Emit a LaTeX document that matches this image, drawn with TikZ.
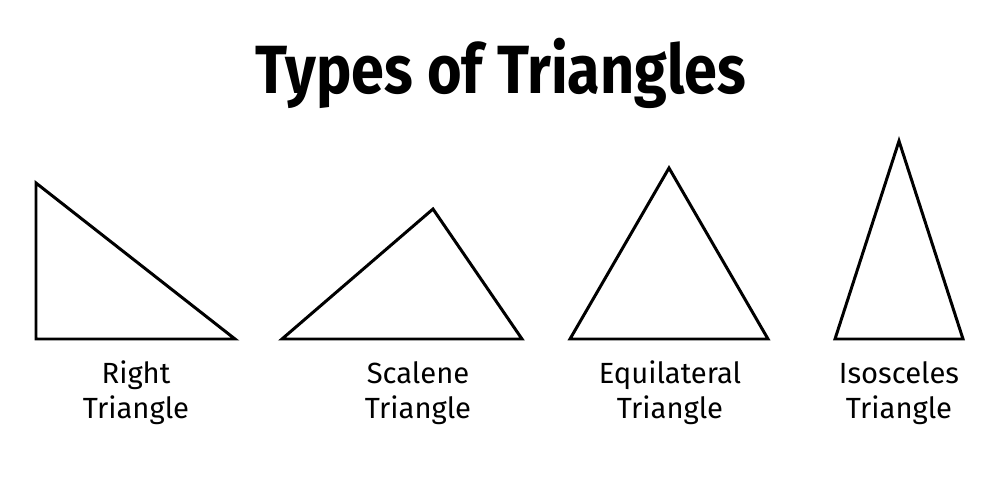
\documentclass[tikz,border=0pt]{standalone}
\usepackage{fontspec}
\setmainfont{Fira Sans}
\usetikzlibrary{positioning}

\tikzset{
    tri/.style={draw, line width=0.85pt, line join=miter},
    lbl/.style={font=\fontsize{8.3}{9.67}\selectfont, align=center, inner sep=0pt, anchor=base},
}

\begin{document}
\begin{tikzpicture}[x=0.01cm, y=-0.01cm]
        \useasboundingbox (0, 0) rectangle (1000, 500);
        \node[font=\bfseries\fontsize{19.4}{23}\selectfont, inner sep=0pt, anchor=base] (title) at (501, 93) {\scalebox{0.87}[1]{Types of Triangles}};

        % right
        \coordinate (ra) at (36, 183);
        \coordinate (rb) at (36, 339);
        \coordinate (rc) at (235, 339);
        \draw[tri] (ra) -- (rb) -- (rc) -- cycle;
        \node[lbl] (right) at (136, 418) {Right\\Triangle};

        % scalene
        \coordinate (sa) at (282, 339);
        \coordinate (sb) at (433, 209);
        \coordinate (sc) at (522, 339);
        \draw[tri] (sa) -- (sb) -- (sc) -- cycle;
        \node[lbl] (scalene) at (418, 418) {Scalene\\Triangle};

        % equilateral
        \coordinate (ea) at (570, 339);
        \coordinate (eb) at (669, 168);
        \coordinate (ec) at (768, 339);
        \draw[tri] (ea) -- (eb) -- (ec) -- cycle;
        \node[lbl] (equilateral) at (670, 418) {Equilateral\\Triangle};

        % isosceles
        \coordinate (ia) at (835, 339);
        \coordinate (ib) at (899, 141);
        \coordinate (ic) at (963, 339);
        \draw[tri] (ia) -- (ib) -- (ic) -- cycle;
        \node[lbl] (isosceles) at (899, 418) {Isosceles\\Triangle};
\end{tikzpicture}
\end{document}
